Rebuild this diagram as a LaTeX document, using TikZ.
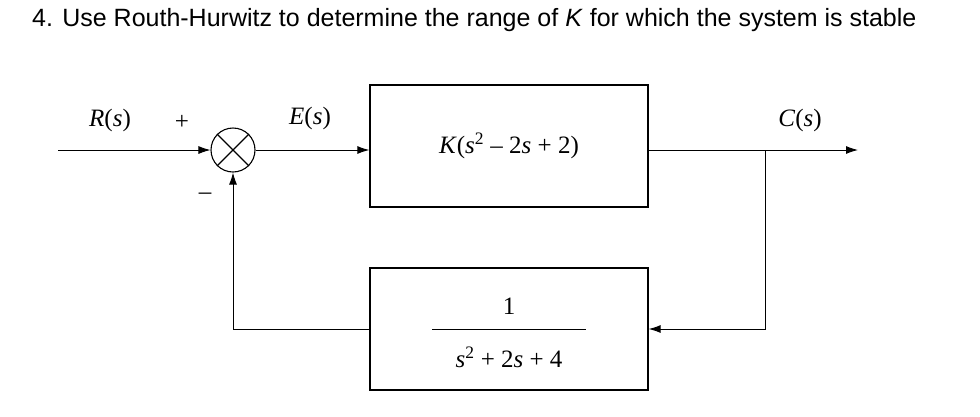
\documentclass[tikz,border=0pt]{standalone}
\usepackage{fontspec}
\setmainfont{Liberation Serif}
\setsansfont{Liberation Sans}
\usetikzlibrary{arrows.meta}
\newcommand{\vi}[1]{\textit{#1}}
\begin{document}
\begin{tikzpicture}[x=1pt,y=-1pt,
  blk/.style={draw,line width=1.3pt,minimum width=278pt,minimum height=122pt,inner sep=0pt},
  wire/.style={line width=0.9pt},
  arr/.style={wire,-{Latex[length=12pt,width=8pt]}},
  lbl/.style={font=\fontsize{25}{29}\selectfont,inner sep=0pt}]
\useasboundingbox (0,0) rectangle (980,416);
\node[anchor=west,font=\sffamily\fontsize{25}{29}\selectfont,inner sep=0pt] (title) at (32,20) {4. Use Routh-Hurwitz to determine the range of \textit{K} for which the system is stable};
\node[draw,circle,line width=1.1pt,minimum size=44pt,inner sep=0pt] (sum) at (233,150) {};
\draw[line width=1.1pt] (sum.north west) -- (sum.south east) (sum.north east) -- (sum.south west);
\node[blk] (G) at (509,146) {};
\node[lbl] at (G) {\vi{K}(\vi{s}\textsuperscript{2} – 2\vi{s} + 2)};
\node[blk] (H) at (509,329) {};
\node[lbl] (num) at (509,306) {1};
\node[lbl] (den) at (509,357) {\vi{s}\textsuperscript{2} + 2\vi{s} + 4};
\draw[line width=0.9pt] (432,329) -- (586,329);
\coordinate (in) at (58,150);
\coordinate (out) at (858,150);
\coordinate (br) at (765,150);
\coordinate (fb) at (233,329);
\draw[arr] (in) -- (sum.west);
\draw[arr] (sum.east) -- (G.west |- sum.east);
\draw[arr] (G.east |- br) -- (out);
\draw[arr] (br) |- (H.east);
\draw[arr] (H.west) -- (fb) -- (sum.south);
\node[lbl] at (110,120) {\vi{R}(\vi{s})};
\node[lbl] at (182,122) {+};
\node[lbl] at (205,196) {–};
\node[lbl] at (310,118) {\vi{E}(\vi{s})};
\node[lbl] at (800,120) {\vi{C}(\vi{s})};
\end{tikzpicture}
\end{document}
